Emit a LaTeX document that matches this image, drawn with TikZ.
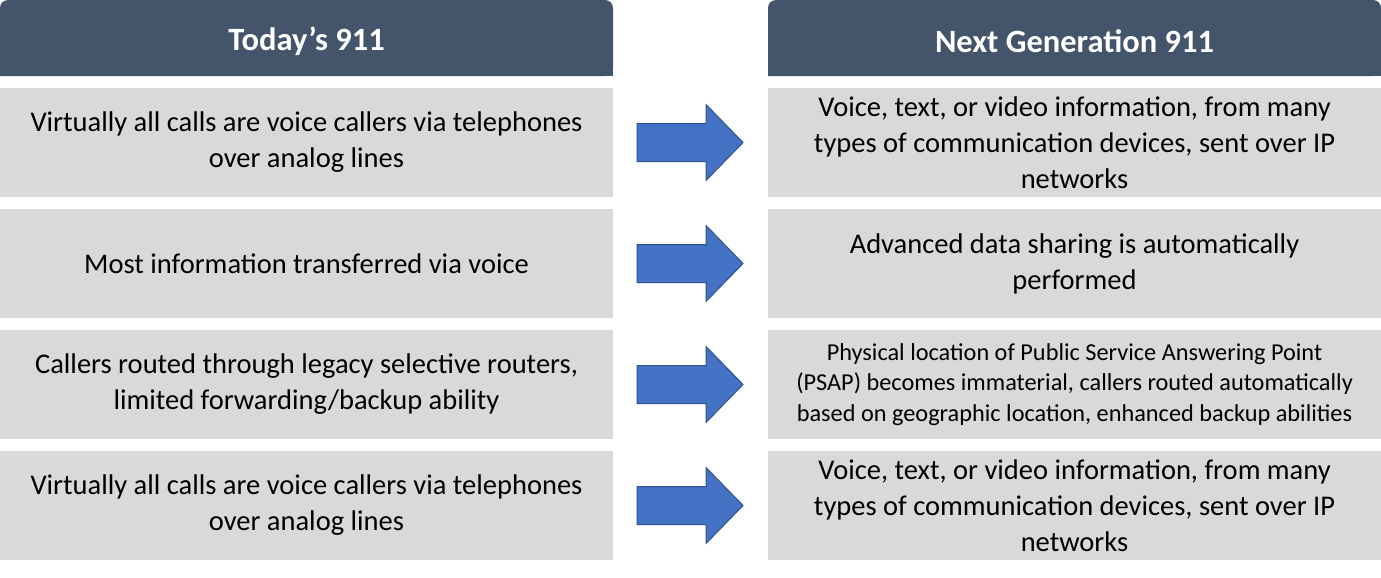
\documentclass[tikz,border=0pt]{standalone}
\usepackage{fontspec}
\setmainfont{Carlito}
\definecolor{hdr}{HTML}{44546A}
\definecolor{cell}{HTML}{D9D9D9}
\definecolor{arr}{HTML}{4472C4}
\definecolor{arrb}{HTML}{2F528F}
\begin{document}
\begin{tikzpicture}[x=1pt,y=-1pt,
  head/.style={fill=hdr,rounded corners=8pt},
  cellbox/.style={fill=cell},
  txt/.style={align=center,font=\fontsize{28.5}{36}\selectfont},
  stxt/.style={align=center,font=\fontsize{24.3}{30.5}\selectfont},
  htxt/.style={text=white,font=\fontsize{32.5}{36}\selectfont\bfseries},
  bigarrow/.style={fill=arr,draw=arrb,line width=1pt}]
\useasboundingbox (0,0) rectangle (1381,578);
% headers
\fill[head] (0,76) -- (0,0) -- (613,0) -- (613,76) [sharp corners]-- cycle;
\fill[head] (768,76) -- (768,0) -- (1381,0) -- (1381,76) [sharp corners]-- cycle;
\fill[hdr] (0,20) rectangle (613,76);
\fill[hdr] (768,20) rectangle (1381,76);
\node[htxt] (h1) at (306.5,41) {Today’s 911};
\node[htxt] (h2) at (1074.5,41) {Next Generation 911};
% rows
\foreach \i/\l/\r/\rs in {
 0/{Virtually all calls are voice callers via telephones\\over analog lines}/{Voice, text, or video information, from many\\types of communication devices, sent over IP\\networks}/0,
 1/{Most information transferred via voice}/{Advanced data sharing is automatically\\performed}/0,
 2/{Callers routed through legacy selective routers,\\limited forwarding/backup ability}/{Physical location of Public Service Answering Point\\(PSAP) becomes immaterial, callers routed automatically\\based on geographic location, enhanced backup abilities}/1,
 3/{Virtually all calls are voice callers via telephones\\over analog lines}/{Voice, text, or video information, from many\\types of communication devices, sent over IP\\networks}/0}{
  \pgfmathsetmacro\yt{88+121*\i}
  \pgfmathsetmacro\yc{\yt+54.5}
  \fill[cellbox] (0,\yt) rectangle (613,\yt+109);
  \fill[cellbox] (768,\yt) rectangle (1381,\yt+109);
  \node[txt] (l\i) at (306.5,\yc) {\l};
  \ifnum\rs=0
    \node[txt] (r\i) at (1074.5,\yc) {\r};
  \else
    \node[stxt] (r\i) at (1074.5,\yc) {\r};
  \fi
  \draw[bigarrow] (637,\yc-19) -- (706,\yc-19) -- (706,\yc-38) -- (743,\yc) -- (706,\yc+38) -- (706,\yc+19) -- (637,\yc+19) -- cycle;
}
\end{tikzpicture}
\end{document}
